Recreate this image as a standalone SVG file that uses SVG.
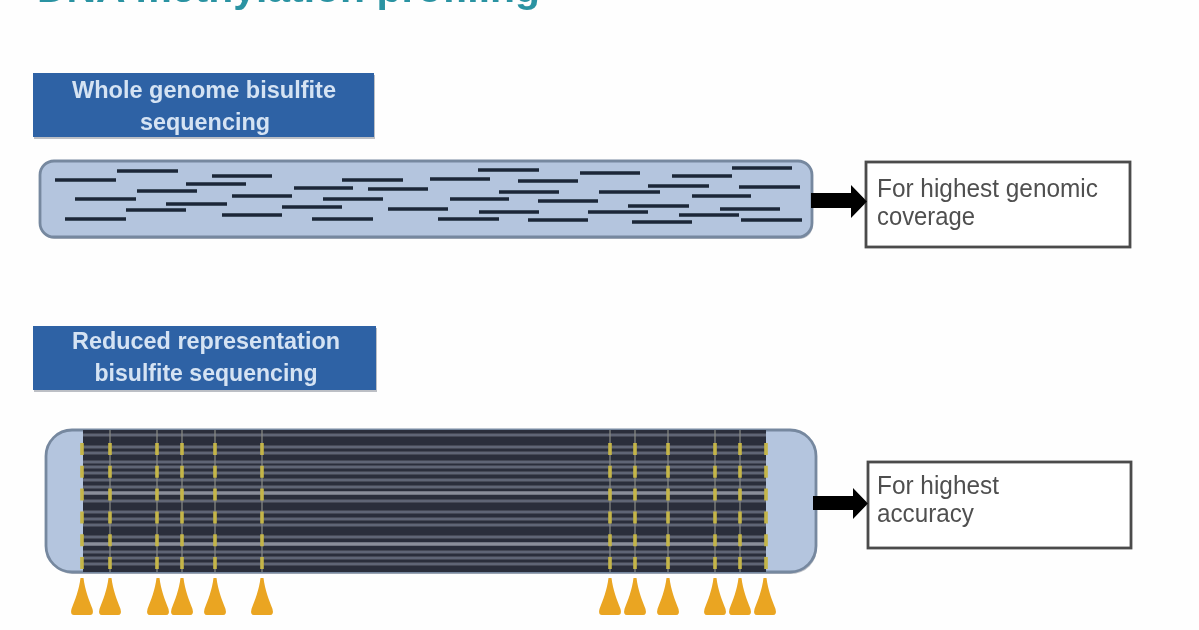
<svg xmlns="http://www.w3.org/2000/svg" width="1199" height="630" viewBox="0 0 1199 630">
<style>
text{font-family:"Liberation Sans",Arial,sans-serif}
.lab{font-size:24px;font-weight:700;fill:#d5e3f3;text-anchor:middle}
.note{font-size:25px;fill:#505050}
.head{fill:#2f62a5}
.shade{fill:#8f959e;opacity:.6}
.frag{stroke:#1a2838;stroke-width:3.6;fill:none}
.tube{fill:#b4c5de;stroke:#76889f;stroke-width:2.8}
.out{fill:#fff;stroke:#4c4c4c;stroke-width:2.8}
.st1{stroke:#5f6574;stroke-width:3;fill:none}
.st2{stroke:#8a8e9a;stroke-width:3.4;fill:none}
.v{stroke:#8b8c86;stroke-width:1.6;opacity:.75}
.y{stroke:#c4b548;stroke-width:3.6;stroke-dasharray:12 10.8}
.cone{fill:#eaa520}
.arrow{fill:#060606}
</style>
<defs>
<filter id="soft" x="-2%" y="-2%" width="104%" height="104%"><feGaussianBlur stdDeviation="0.75"/></filter>
<path id="c" d="M-1.500 578H1.500C3 590 7 600 10.500 609Q12 615 8 615H-8Q-12 615-10.500 609C-7 600-3 590-1.500 578Z"/>
</defs>
<rect width="1199" height="630" fill="#fefefe"/>
<g filter="url(#soft)">
<g id="title"><text x="37" y="2" font-size="40" font-weight="700" fill="#2b93a2" textLength="503" lengthAdjust="spacingAndGlyphs">DNA methylation profiling</text></g>

<g id="label-wgbs">
<rect class="shade" x="34" y="75" width="341" height="64"/>
<rect class="head" x="33" y="73" width="341" height="64"/>
<text class="lab" x="204" y="98" textLength="264" lengthAdjust="spacingAndGlyphs">Whole genome bisulfite</text>
<text class="lab" x="205" y="130" textLength="130" lengthAdjust="spacingAndGlyphs">sequencing</text>
</g>

<g id="tube-wgbs">
<rect class="shade" x="41" y="163" width="772" height="76" rx="14"/>
<rect class="tube" x="40" y="161" width="772" height="76" rx="14"/>
<path class="frag" d="M117 171H178M55 180H116M212 176H272M186 184H246M137 191H197M75 199H136M232 196H292M166 204H227M126 210H186M65 219H126M222 215H282M282 207H342M312 219H373M323 199H383M294 188H353M342 180H403M368 189H428M430 179H490M478 170H539M518 181H578M499 192H559M450 199H509M538 201H598M388 209H448M479 212H539M438 219H499M528 220H588M580 173H640M672 176H732M732 168H792M648 186H709M739 187H800M599 192H660M692 196H751M628 206H689M720 209H780M588 212H648M679 215H739M632 222H692M741 220H802"/>
</g>

<g id="note-coverage">
<rect class="out" x="866" y="162" width="264" height="85"/>
<text class="note" x="877" y="197" textLength="221" lengthAdjust="spacingAndGlyphs">For highest genomic</text>
<text class="note" x="877" y="225" textLength="98" lengthAdjust="spacingAndGlyphs">coverage</text>
</g>

<g id="label-rrbs">
<rect class="shade" x="34" y="328" width="343" height="64"/>
<rect class="head" x="33" y="326" width="343" height="64"/>
<text class="lab" x="206" y="349" textLength="268" lengthAdjust="spacingAndGlyphs">Reduced representation</text>
<text class="lab" x="206" y="381" textLength="223" lengthAdjust="spacingAndGlyphs">bisulfite sequencing</text>
</g>

<g id="tube-rrbs">
<rect class="shade" x="47" y="432" width="770" height="142" rx="26"/>
<rect class="tube" x="46" y="430" width="770" height="142" rx="26"/>
<rect x="83" y="430" width="683" height="142" fill="#2a2e3a"/>
<path class="st1" d="M83 435H766M83 447H766M83 453H766M83 462H766M83 467H766M83 473H766M83 480H766M83 487H766M83 501H766M83 512H766M83 519H766M83 525H766M83 537H766M83 552H766M83 558H766M83 564H766"/>
<path class="st2" d="M83 493H766M83 544H766"/>
<g id="sites">
<path class="v" d="M110 430V572M157 430V572M182 430V572M215 430V572M262 430V572M610 430V572M635 430V572M668 430V572M715 430V572M740 430V572"/>
<path class="y" d="M82 443V572M110 443V572M157 443V572M182 443V572M215 443V572M262 443V572M610 443V572M635 443V572M668 443V572M715 443V572M740 443V572M766 443V572"/>
</g>
</g>

<g id="enzymes" class="cone">
<use href="#c" x="82"/><use href="#c" x="110"/><use href="#c" x="158"/><use href="#c" x="182"/><use href="#c" x="215"/><use href="#c" x="262"/><use href="#c" x="610"/><use href="#c" x="635"/><use href="#c" x="668"/><use href="#c" x="715"/><use href="#c" x="740"/><use href="#c" x="765"/>
</g>

<g id="note-accuracy">
<rect class="out" x="868" y="462" width="263" height="86"/>
<text class="note" x="877" y="494" textLength="122" lengthAdjust="spacingAndGlyphs">For highest</text>
<text class="note" x="877" y="522" textLength="97" lengthAdjust="spacingAndGlyphs">accuracy</text>
</g>

<g id="connectors">
<path class="arrow" d="M811 193H851V185L867 201.500L851 218V208H811Z"/>
<path class="arrow" d="M813 496H853V488L868 503.500L853 519V510H813Z"/>
</g>
</g>
</svg>
